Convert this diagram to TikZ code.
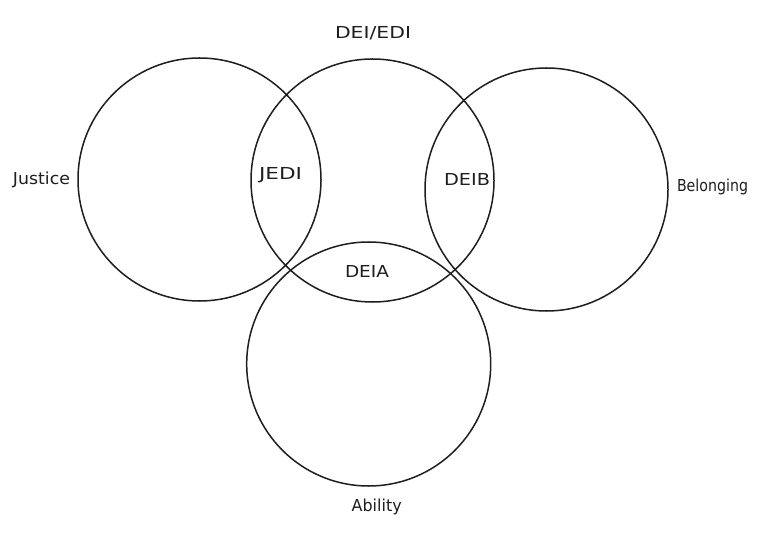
\documentclass[tikz,border=0pt]{standalone}
\usepackage{fontspec}
\setmainfont{DejaVu Sans}
\usepackage{graphicx}
\definecolor{ink}{HTML}{1E1E1E}
\newcommand{\fitw}[2]{\resizebox{#1}{\height}{#2}}
\tikzset{
  setring/.style={circle, draw=ink, line width=1.5pt, minimum size=243pt, inner sep=0pt},
  lbl/.style={anchor=base, inner sep=0pt, text=ink, font=\fontsize{16.5}{19}\selectfont}
}
\begin{document}
\begin{tikzpicture}[x=1pt, y=-1pt]
\useasboundingbox (0,0) rectangle (768,537);
\fill[white] (0,0) rectangle (768,537);
% circles
\node[setring] (justice) at (199.5,179.5) {};
\node[setring] (dei) at (372.5,180.5) {};
\node[setring] (belonging) at (546.5,189.5) {};
\node[setring, minimum size=244pt] (ability) at (368.7,364) {};
% outer labels
\node[lbl] (tdei) at (373,38.3) {\fitw{76pt}{DEI/EDI}};
\node[lbl] (tjustice) at (41.5,185) {\fitw{57pt}{Justice}};
\node[lbl] (tbelonging) at (712.5,191.5) {\fitw{71pt}{Belonging}};
\node[lbl] (tability) at (376.7,511.5) {\fitw{50pt}{Ability}};
% intersection labels
\node[lbl] (tjedi) at (280.5,180) {\fitw{43pt}{JEDI}};
\node[lbl] (tdeib) at (467,186) {\fitw{46pt}{DEIB}};
\node[lbl] (tdeia) at (367,277.3) {\fitw{44pt}{DEIA}};
\end{tikzpicture}
\end{document}
